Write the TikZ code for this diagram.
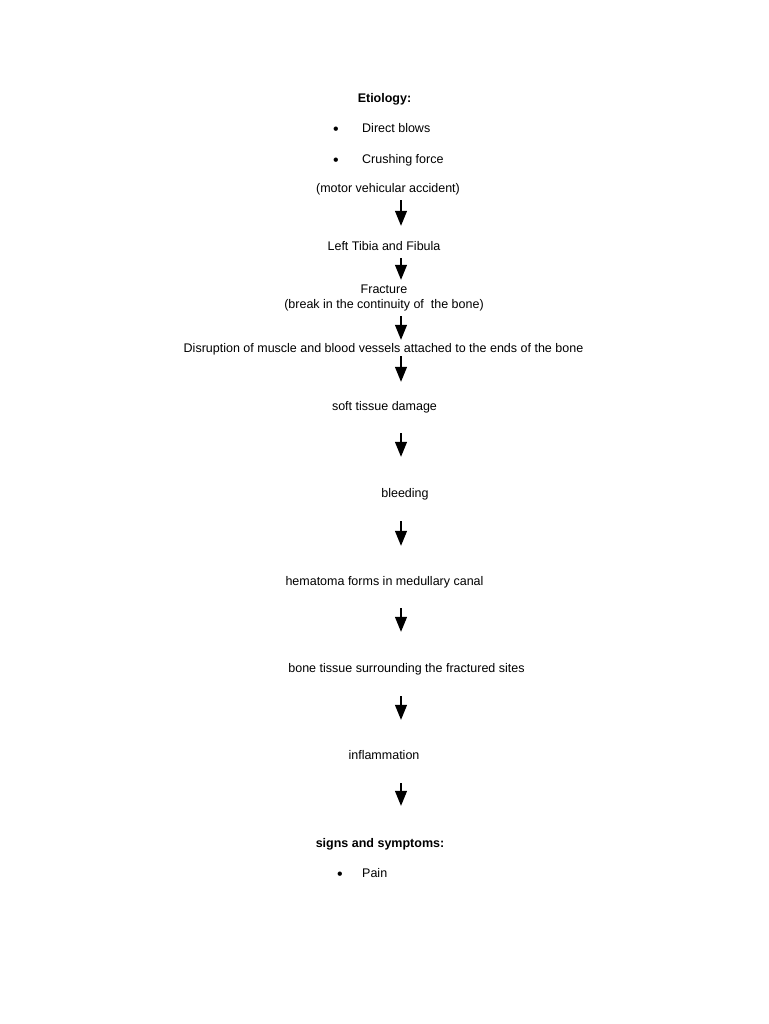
\documentclass[tikz,border=0pt]{standalone}
\usepackage{fontspec}
\setmainfont{Liberation Sans}
\usepackage{tikz}
\usetikzlibrary{arrows.meta}

\begin{document}
\begin{tikzpicture}[x=1pt, y=-1pt,
        font=\fontsize{12.5}{15}\selectfont,
        main/.style = {inner sep=0pt, text height=9pt, text depth=3pt, anchor=base},
        dot/.style = {main, font=\fontsize{16}{15}\selectfont},
        flow/.style = {-{Triangle[width=12pt,length=15pt]}, line width=1.2pt}]
    \useasboundingbox (0,0) rectangle (768,1024);
    \coordinate (ax) at (401,0);

    % etiology
    \node[main, font=\fontsize{12.5}{15}\selectfont\bfseries] (etio) at (384.5,102.5) {Etiology:};
    \node[dot] (b1) at (336,134.5) {\textbullet};
    \node[main, anchor=base west] (blows) at (362,132.5) {Direct blows};
    \node[dot] (b2) at (336,165.5) {\textbullet};
    \node[main, anchor=base west] (crush) at (362,163.5) {Crushing force};
    \node[main] (motor) at (388,192.5) {(motor vehicular accident)};

    % chain
    \node[main] (tibia) at (384,250.5) {Left Tibia and Fibula};
    \node[main] (fract) at (384,293.5) {Fracture};
    \node[main] (brk) at (384,308.5) {(break in the continuity of \ the bone)};
    \node[main] (disr) at (383.5,352.5) {Disruption of muscle and blood vessels attached to the ends of the bone};
    \node[main] (soft) at (384.5,410.5) {soft tissue damage};
    \node[main] (bleed) at (405,497.5) {bleeding};
    \node[main] (hema) at (384.5,585.5) {hematoma forms in medullary canal};
    \node[main] (bone) at (406.5,672.5) {bone tissue surrounding the fractured sites};
    \node[main] (infl) at (384,759.5) {inflammation};

    % signs
    \node[main, font=\fontsize{12.5}{15}\selectfont\bfseries] (signs) at (380,847.5) {signs and symptoms:};
    \node[dot] (b3) at (340,879.5) {\textbullet};
    \node[main, anchor=base west] (pain) at (362,877.5) {Pain};

    \path[flow, shorten <=4.5pt, shorten >=15.5pt] (motor.south -| ax) edge (tibia.north -| ax);
    \path[flow, shorten <=4.5pt, shorten >=4.5pt] (tibia.south -| ax) edge (fract.north -| ax);
    \path[flow, shorten <=4.5pt, shorten >=3.5pt] (brk.south -| ax) edge (disr.north -| ax);
    \path[flow, shorten <=0.5pt, shorten >=19.5pt] (disr.south -| ax) edge (soft.north -| ax);
    \path[flow, shorten <=19.5pt, shorten >=31.5pt] (soft.south -| ax) edge (bleed.north -| ax);
    \path[flow, shorten <=20.5pt, shorten >=30.5pt] (bleed.south -| ax) edge (hema.north -| ax);
    \path[flow, shorten <=19.5pt, shorten >=31.5pt] (hema.south -| ax) edge (bone.north -| ax);
    \path[flow, shorten <=20.5pt, shorten >=30.5pt] (bone.south -| ax) edge (infl.north -| ax);
    \path[flow, shorten <=20.5pt, shorten >=32.5pt] (infl.south -| ax) edge (signs.north -| ax);
\end{tikzpicture}
\end{document}
